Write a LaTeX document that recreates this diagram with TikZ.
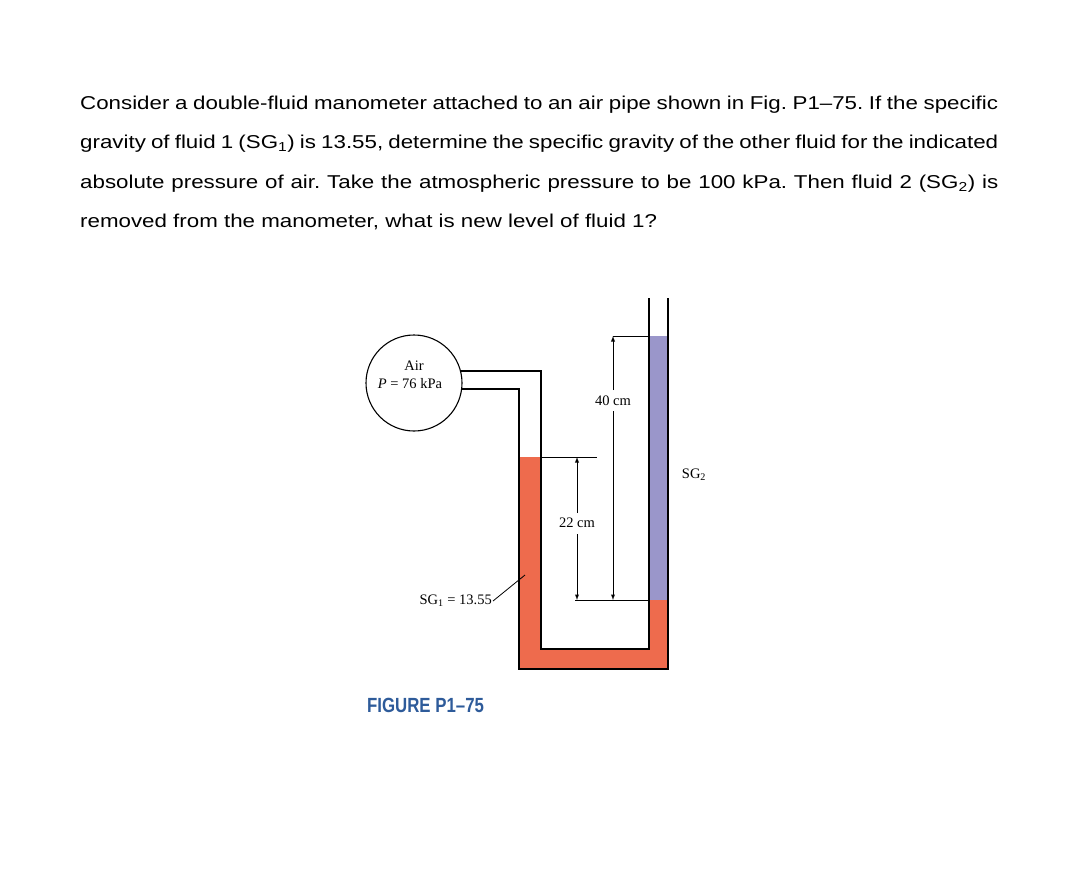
\documentclass[tikz,border=0pt]{standalone}
\usepackage{fontspec}
\setmainfont{Liberation Sans}
\newfontfamily\parafont[FakeStretch=1.2]{Liberation Sans}
\newfontfamily\serifnum{Liberation Serif}
\newfontfamily\figfont[FakeStretch=0.82]{Liberation Sans}
\definecolor{redfl}{HTML}{EE6B4D}
\definecolor{purfl}{HTML}{9A96CA}
\definecolor{figblue}{HTML}{2E5B9A}
\begin{document}
\frenchspacing
\begin{tikzpicture}[x=1pt,y=-1pt,
  wall/.style={line width=1.1pt},
  dim/.style={line width=0.9pt},
  lbl/.style={font=\serifnum\fontsize{14.5}{15}\selectfont, inner sep=1pt}]
\useasboundingbox (0,0) rectangle (1080,881);
\node[anchor=north west, text width=918pt, align=justify, inner sep=0pt,
 font=\parafont\frenchspacing\fontsize{18.6}{39.3}\selectfont] (para) at (80,96)
 {Consider a double-fluid manometer attached to an air pipe shown in Fig. P1–75. If the specific\linebreak
 gravity of fluid 1 (SG\textsubscript{1}) is 13.55, determine the specific gravity of the other fluid for the indicated\linebreak
 absolute pressure of air. Take the atmospheric pressure to be 100 kPa. Then fluid 2 (SG\textsubscript{2}) is\linebreak
 removed from the manometer, what is new level of fluid 1?\par};
% fluids
\fill[redfl] (519,457) -- (541,457) -- (541,649) -- (649,649) -- (649,600) -- (668,600) -- (668,669) -- (519,669) -- cycle;
\fill[purfl] (649,336) rectangle (668,600);
% tube walls
\node[circle, draw, line width=1.1pt, minimum size=96pt, inner sep=0pt] (air) at (414,383) {};
\node[lbl] (airt) at (414,366) {Air};
\node[lbl] (pt) at (410,384) {\itshape P\upshape\ = 76 kPa};
\coordinate (a1) at (461,371);
\coordinate (a2) at (462,389);
\draw[wall] (a1) -- (541,371) -- (541,649) -- (649,649) -- (649,298);
\draw[wall] (a2) -- (519,389) -- (519,669) -- (668,669) -- (668,298);
% dimensions
\coordinate (t40) at (613,336); \coordinate (b40) at (613,600);
\coordinate (t22) at (577,457); \coordinate (b22) at (577,600);
\draw[dim] (613,336) -- (649,336);
\draw[dim] (541,457) -- (597,457);
\draw[dim] (575,600) -- (649,600);
\draw[dim,-latex] (613,390) -- (t40);
\draw[dim,-latex] (613,411) -- (b40);
\draw[dim,-latex] (577,513) -- (t22);
\draw[dim,-latex] (577,534) -- (b22);
\node[lbl, fill=white] (l40) at (613,401) {40 cm};
\node[lbl, fill=white] (l22) at (577,523) {22 cm};
\node[lbl] (sg2) at (694,475) {SG\textsubscript{2}};
\node[lbl, anchor=east] (sg1) at (493,601) {SG\textsubscript{1} = 13.55};
\coordinate (sgp) at (525,575);
\draw[line width=0.8pt] (sg1.east) -- (sgp);
\node[anchor=west, inner sep=0pt, text=figblue, font=\figfont\bfseries\fontsize{20.5}{21}\selectfont] (fig) at (367,705) {FIGURE P1–75};
\end{tikzpicture}
\end{document}
